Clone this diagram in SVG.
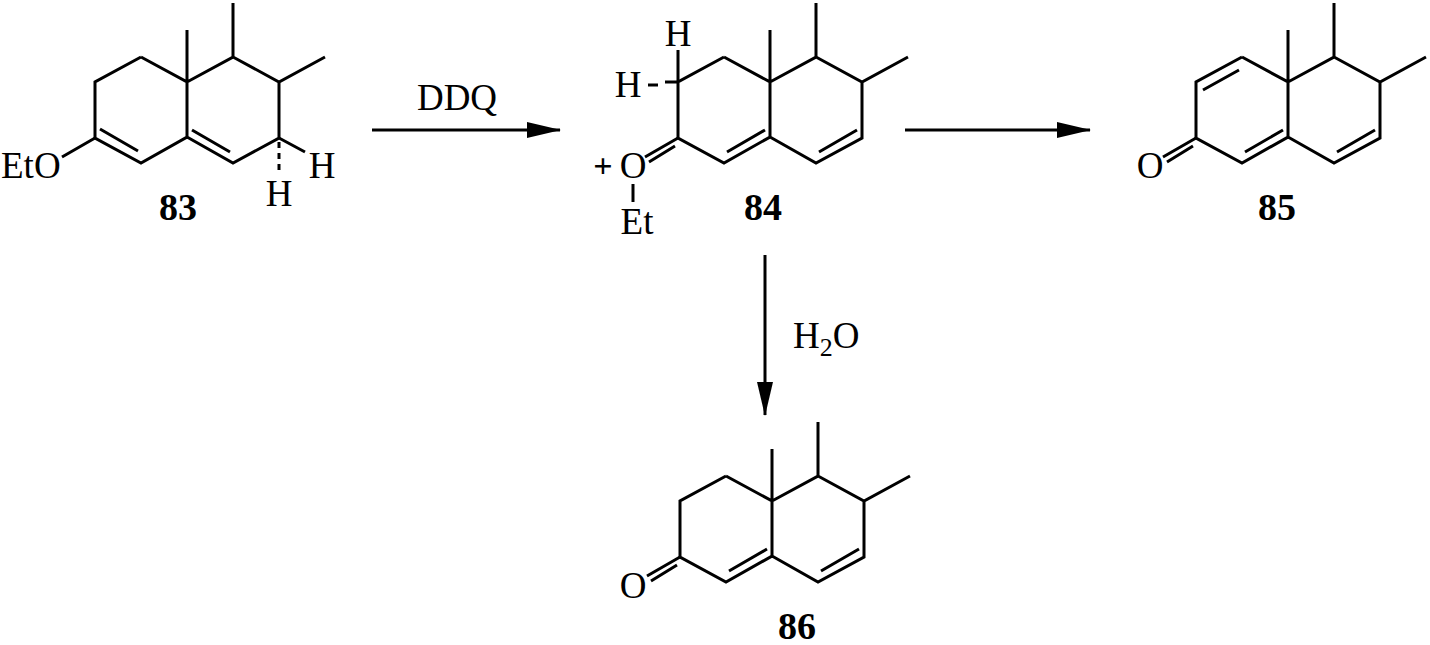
<svg xmlns="http://www.w3.org/2000/svg" width="1430" height="645" viewBox="0 0 1430 645">
<style>
line,path{stroke:#000;stroke-width:3;fill:none;stroke-linecap:butt}
text{font-family:"Liberation Serif","Times New Roman",serif;font-size:37px;fill:#000}
.b{font-weight:bold;font-size:38px}
</style>
<defs>
<marker id="ah" markerWidth="34" markerHeight="16" refX="33" refY="8" orient="auto" markerUnits="userSpaceOnUse"><path d="M0,0 L34,8 L0,16 Z" style="fill:#000;stroke:none"/></marker>
<path id="skel" d="M141,57 L95,82 L95,138 L141,163 L187,137 L187,82 L141,57 M187,82 L187,30 M187,82 L233,57 L233,3 M233,57 L279,82 L325,57 M279,82 L279,138 L233,163 L187,137"/>
</defs>
<rect width="1430" height="645" fill="#fff"/>
<g id="m83">
<use href="#skel"/>
<path d="M100,129 L138,151 M192,130 L230,152 M95,138 L62,157 M279,138 L305,152"/>
<path d="M279,142 L279,172" style="stroke-dasharray:6,5"/>
<text x="1" y="178">EtO</text>
<text x="322" y="178" text-anchor="middle">H</text>
<text x="279" y="206" text-anchor="middle">H</text>
<text x="178" y="220" class="b" text-anchor="middle">83</text>
</g>
<g id="m84">
<g transform="translate(583,0)">
<use href="#skel"/>
<path d="M144,152 L182,130 M236,152 L274,130 M95,138 L62,157 M92,146 L66,162 M95,82 L95,50 M82,82 L95,82 M65,85 L75,85"/>
</g>
<text x="678" y="46" text-anchor="middle">H</text>
<text x="628" y="97" text-anchor="middle">H</text>
<text x="603" y="177" class="b" text-anchor="middle" style="font-size:34px">+</text>
<text x="633" y="178" text-anchor="middle">O</text>
<path d="M633,184 L633,202"/>
<text x="637" y="234" text-anchor="middle">Et</text>
<text x="763" y="220" class="b" text-anchor="middle">84</text>
</g>
<g id="m85">
<g transform="translate(1101,0)">
<use href="#skel"/>
<path d="M102,90 L138,70 M144,152 L182,130 M236,152 L274,130 M95,138 L62,157 M92,146 L66,162"/>
</g>
<text x="1150" y="178" text-anchor="middle">O</text>
<text x="1277" y="220" class="b" text-anchor="middle">85</text>
</g>
<g id="m86">
<g transform="translate(585,419)">
<use href="#skel"/>
<path d="M144,152 L182,130 M236,152 L274,130 M95,138 L62,157 M92,146 L66,162"/>
</g>
<text x="633" y="598" text-anchor="middle">O</text>
<text x="797" y="639" class="b" text-anchor="middle">86</text>
</g>
<g id="connectors">
<line x1="372" y1="130" x2="560" y2="130" marker-end="url(#ah)"/>
<line x1="905" y1="130" x2="1090" y2="130" marker-end="url(#ah)"/>
<line x1="765" y1="255" x2="765" y2="415" marker-end="url(#ah)"/>
<text x="457" y="110" text-anchor="middle">DDQ</text>
<text x="793" y="348">H<tspan dy="8" style="font-size:26px">2</tspan><tspan dy="-8">O</tspan></text>
</g>
</svg>
